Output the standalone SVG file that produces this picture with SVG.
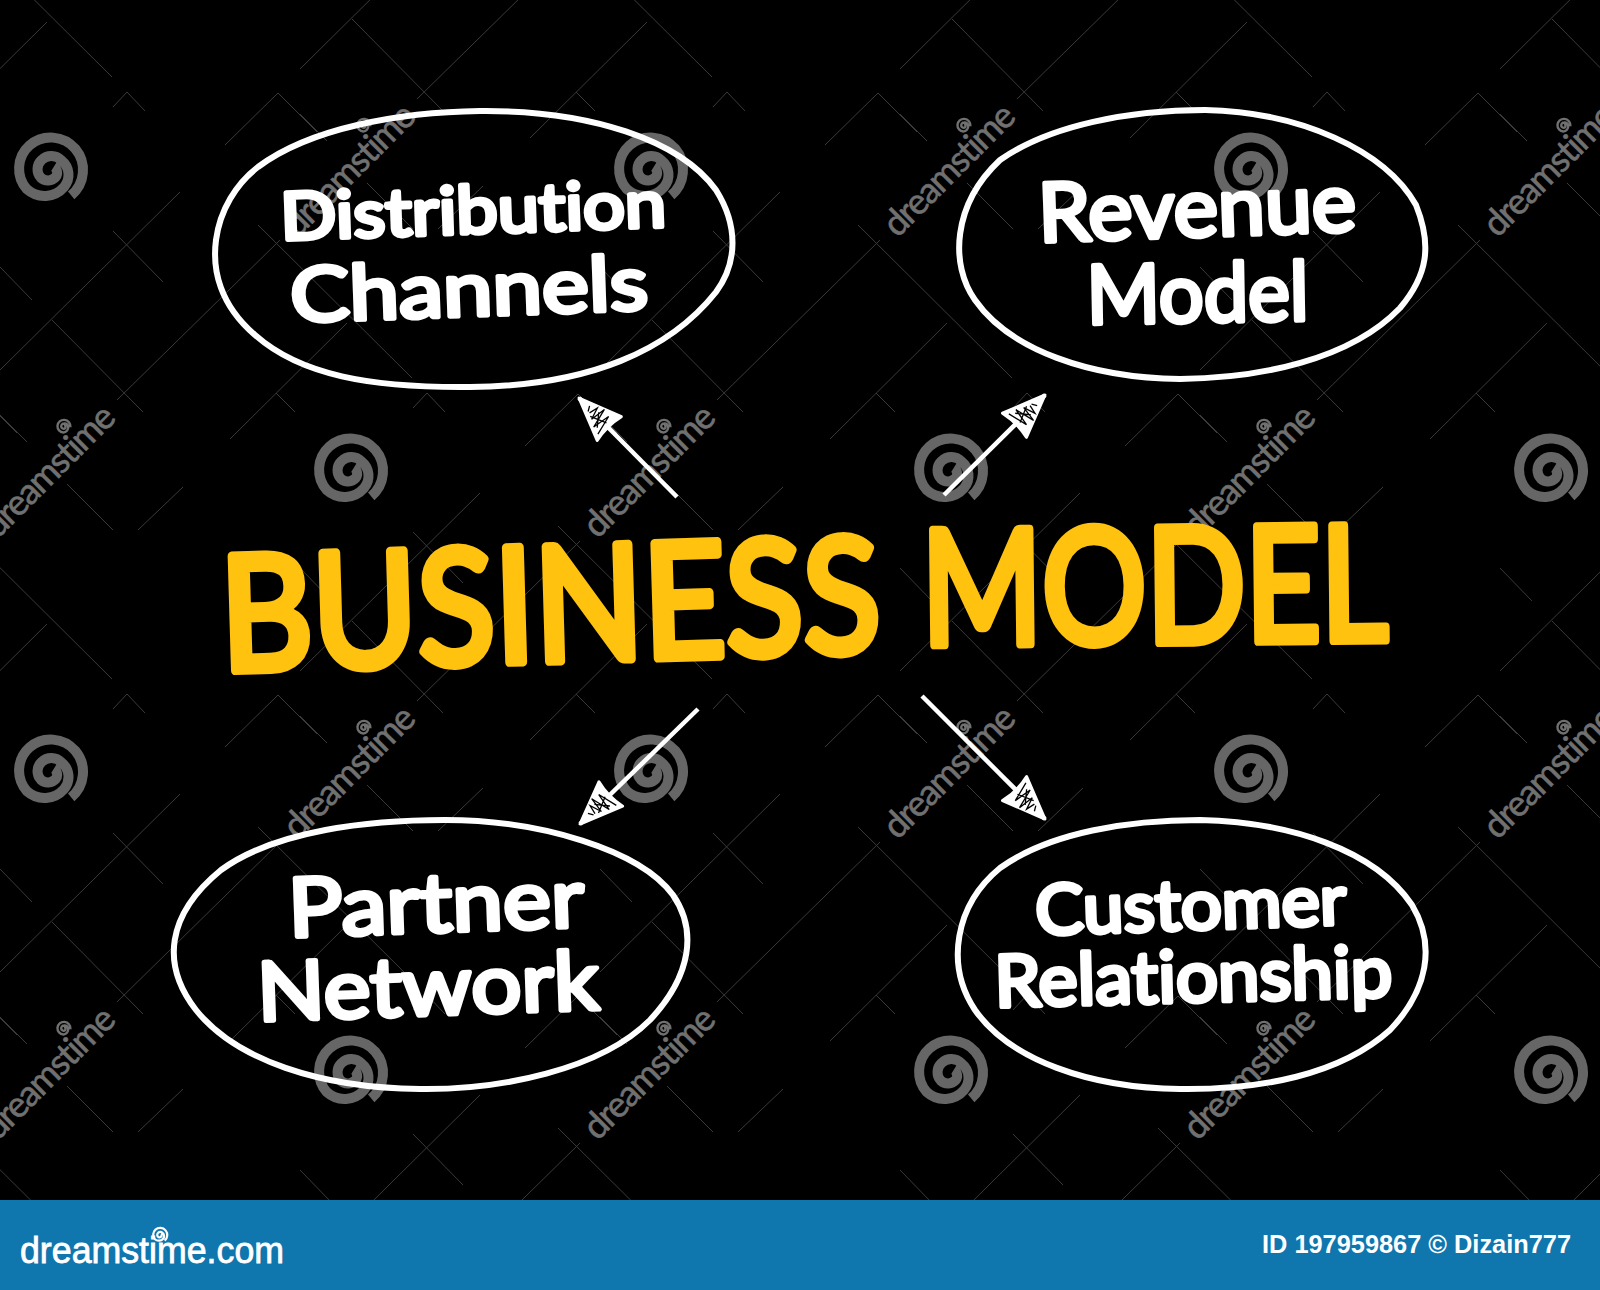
<svg xmlns="http://www.w3.org/2000/svg" xmlns:xlink="http://www.w3.org/1999/xlink" width="1600" height="1290" viewBox="0 0 1600 1290">
<style>
text{font-variant-ligatures:none}
.hand{font-family:"Lato","Liberation Sans",sans-serif;font-weight:400;fill:#fff;stroke:#fff;stroke-width:4.5;stroke-linejoin:round}
.title{font-family:"Lato","Liberation Sans",sans-serif;font-weight:400;fill:#ffc20e;stroke:#ffc20e;stroke-width:9;stroke-linejoin:round}
.oval{fill:none;stroke:#fff;stroke-width:6;stroke-linecap:round;stroke-linejoin:round}
.arrow{fill:none;stroke:#fff;stroke-width:4.5;marker-end:url(#head)}
.wm{font-family:"Lato","Liberation Sans",sans-serif;font-size:36px;fill:#707070;stroke:#707070;stroke-width:.6}
.thin{stroke:#3a3a3a;stroke-width:1;fill:none}
.spiral{fill:none;stroke:#666;stroke-width:10}
.foot{font-family:"Liberation Sans",sans-serif;fill:#fff}
</style>
<defs>
<path id="sp" d="M21.2 25.3A33 33 0 0 0 25.3 -21.2A32.5 32.5 0 0 0 -20.6 -24.5A31 31 0 0 0 -23 19.3A26 26 0 0 0 14.1 16.9A18.5 18.5 0 0 0 11.5 -9.6A14 14 0 0 0 -8.4 -10A12.5 12.5 0 0 0 -9.2 7.7A10.5 10.5 0 0 0 5.8 6.9A7 7 0 0 0 3.8 -3.2"/>
<marker id="head" markerUnits="userSpaceOnUse" markerWidth="60" markerHeight="50" refX="46" refY="25" orient="auto" viewBox="0 0 60 50">
<path d="M46 25L3 8Q7 25 3 42Z" fill="#fff" stroke="#fff" stroke-width="3" stroke-linejoin="round"/>
<path d="M7 13L12 33L15 15L20 35L22 19L26 31L28 22M9 27L25 20M12 17L22 29M30 22L33 27" fill="none" stroke="#000" stroke-width="1.3"/>
</marker>
<g id="tile">
<use xlink:href="#sp" class="spiral" transform="translate(50 170)"/>
<g transform="translate(349 170) rotate(-45)">
<text class="wm" x="0" y="12" text-anchor="middle" textLength="170">dreamstime</text>
<use xlink:href="#sp" transform="translate(42 -21) scale(.2)" style="fill:none;stroke:#707070;stroke-width:12"/>
</g>
<path class="thin" d="M0 370L180 192M113 107L127 92L145 111M225 145L278 93L317 132M113 231L163 282M0 267L32 300M52 320L143 412M117 400L280 240M258 225L412 378M230 439L347 323M276 393L295 412M67 484L113 530M138 530L183 487M0 415L27 442"/>
</g>
</defs>

<rect id="background" width="1600" height="1290" fill="#000"/>
<g id="watermark">
<use xlink:href="#tile" transform="translate(-300 -301)"/>
<use xlink:href="#tile" transform="translate(300 -301)"/>
<use xlink:href="#tile" transform="translate(900 -301)"/>
<use xlink:href="#tile" transform="translate(1500 -301)"/>
<use xlink:href="#tile" transform="translate(0 0)"/>
<use xlink:href="#tile" transform="translate(600 0)"/>
<use xlink:href="#tile" transform="translate(1200 0)"/>
<use xlink:href="#tile" transform="translate(-300 301)"/>
<use xlink:href="#tile" transform="translate(300 301)"/>
<use xlink:href="#tile" transform="translate(900 301)"/>
<use xlink:href="#tile" transform="translate(1500 301)"/>
<use xlink:href="#tile" transform="translate(0 602)"/>
<use xlink:href="#tile" transform="translate(600 602)"/>
<use xlink:href="#tile" transform="translate(1200 602)"/>
<use xlink:href="#tile" transform="translate(-300 903)"/>
<use xlink:href="#tile" transform="translate(300 903)"/>
<use xlink:href="#tile" transform="translate(900 903)"/>
<use xlink:href="#tile" transform="translate(1500 903)"/>
</g>

<g id="connectors">
<path class="arrow" d="M677 497L579 398"/>
<path class="arrow" d="M944 495L1045 395"/>
<path class="arrow" d="M698 709L580 824"/>
<path class="arrow" d="M922 696L1045 819"/>
</g>

<g id="node-distribution">
<path class="oval" d="M258 167C310 128 400 112 480 111C590 110 680 140 716 190C738 225 738 262 716 292C670 350 590 386 470 387C370 388 300 375 255 335C220 305 212 270 216 240C220 210 236 184 258 167Z"/>
<text class="hand" transform="translate(281 240) rotate(-2)" font-size="66" textLength="386" lengthAdjust="spacingAndGlyphs">Distribution</text>
<text class="hand" transform="translate(291 322) rotate(-2)" font-size="76" textLength="358" lengthAdjust="spacingAndGlyphs">Channels</text>
</g>
<g id="node-revenue">
<path class="oval" d="M1000 160C1050 125 1130 110 1205 110C1300 112 1385 150 1416 205C1432 245 1428 275 1400 308C1350 360 1260 378 1180 379C1090 378 1010 350 975 300C950 265 952 205 1000 160Z"/>
<text class="hand" transform="translate(1039 242) rotate(-2)" font-size="82" textLength="318" lengthAdjust="spacingAndGlyphs">Revenue</text>
<text class="hand" transform="translate(1087 324) rotate(-1)" font-size="82" textLength="222" lengthAdjust="spacingAndGlyphs">Model</text>
</g>
<g id="node-partner">
<path class="oval" d="M221 870C276 830 370 820 445 820C540 820 640 850 673 895C697 930 692 975 650 1020C600 1070 500 1090 420 1089C320 1088 236 1060 196 1010C161 965 166 915 221 870Z"/>
<text class="hand" transform="translate(289 937) rotate(-2)" font-size="82" textLength="296" lengthAdjust="spacingAndGlyphs">Partner</text>
<text class="hand" transform="translate(258 1021) rotate(-2)" font-size="82" textLength="342" lengthAdjust="spacingAndGlyphs">Network</text>
</g>
<g id="node-customer">
<path class="oval" d="M1000 868C1050 832 1130 820 1200 820C1290 822 1375 850 1412 905C1436 945 1428 990 1390 1030C1340 1075 1260 1090 1180 1089C1090 1088 1010 1060 975 1010C945 965 955 905 1000 868Z"/>
<text class="hand" transform="translate(1036 935) rotate(-2)" font-size="70" textLength="311" lengthAdjust="spacingAndGlyphs">Customer</text>
<text class="hand" transform="translate(995 1007) rotate(-1.5)" font-size="72" textLength="398" lengthAdjust="spacingAndGlyphs">Relationship</text>
</g>
<g id="node-title">
<text class="title" transform="translate(222 671) rotate(-1.7)" font-size="160" textLength="660" lengthAdjust="spacingAndGlyphs">BUSINESS</text>
<text class="title" transform="translate(922 645) rotate(-.6)" font-size="160" textLength="466" lengthAdjust="spacingAndGlyphs">MODEL</text>
</g>

<g id="footer">
<rect x="0" y="1200" width="1600" height="90" fill="#0f76ae"/>
<text class="foot" x="20" y="1263" font-size="36" stroke="#fff" stroke-width=".8" textLength="264" lengthAdjust="spacingAndGlyphs">dreamstime.com</text>
<use xlink:href="#sp" transform="translate(160 1235) scale(.22)" style="fill:none;stroke:#fff;stroke-width:10"/>
<text class="foot" x="1262" y="1253" font-size="25" font-weight="700" textLength="309" lengthAdjust="spacingAndGlyphs">ID 197959867 © Dizain777</text>
</g>
</svg>
